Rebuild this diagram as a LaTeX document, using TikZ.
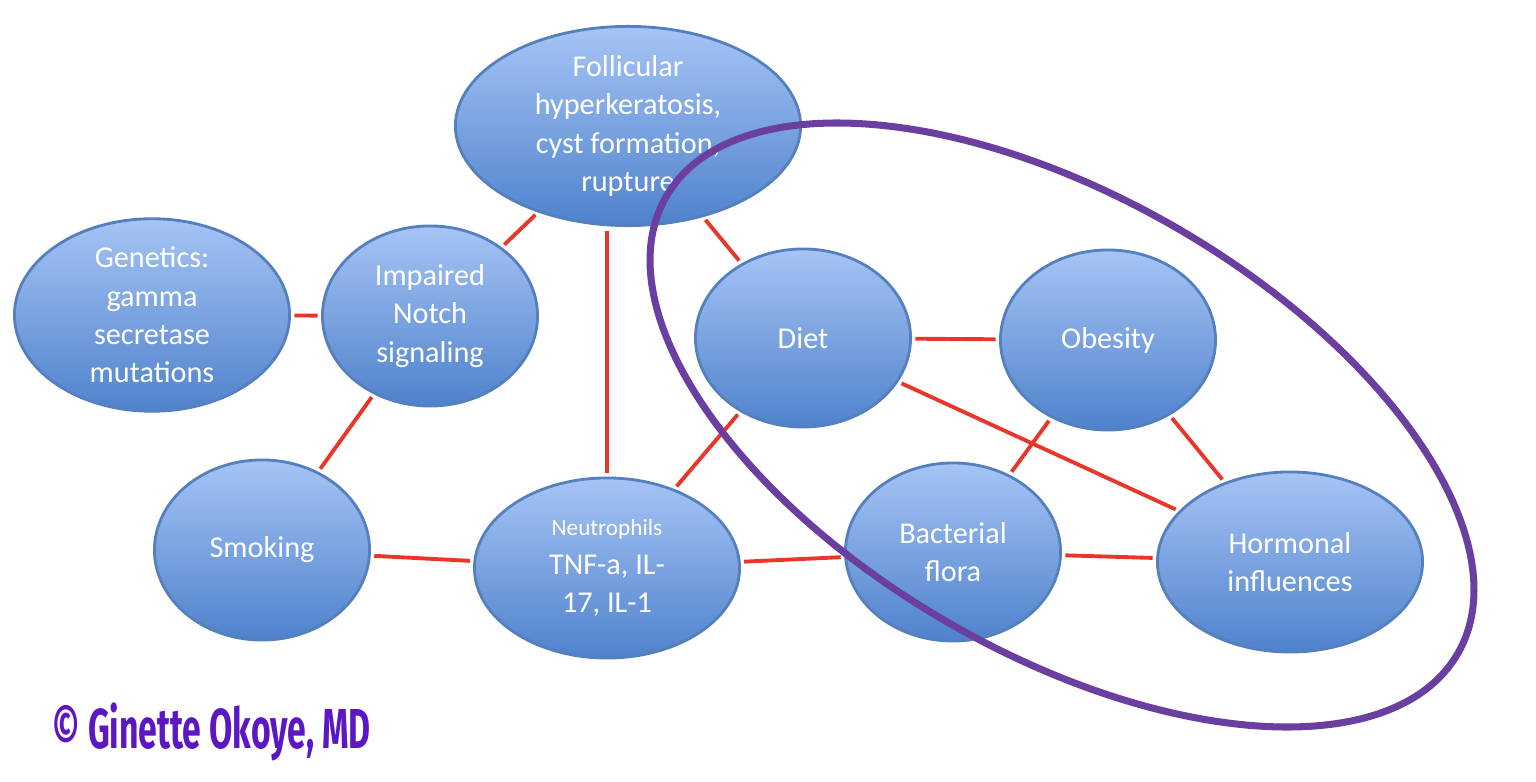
\documentclass[tikz,border=0pt]{standalone}
\usepackage{fontspec}
\setmainfont{Carlito}
\newfontfamily\signfont{Fira Sans}
\usetikzlibrary{shapes.geometric}
\definecolor{bubbletop}{HTML}{A6C4F5}
\definecolor{bubblebot}{HTML}{4F82CC}
\definecolor{bubbleline}{HTML}{5580BE}
\definecolor{linkred}{HTML}{E8362A}
\definecolor{ringpurple}{HTML}{6B3FA0}
\definecolor{signpurple}{HTML}{5B17C4}
\tikzset{bubble/.style={ellipse, draw=bubbleline, line width=0.8pt, top color=bubbletop,
    bottom color=bubblebot, text=white, align=center, inner sep=0pt,
    font=\fontsize{8.6}{10.9}\selectfont}}
\tikzset{link/.style={draw=linkred, line width=1.1pt, shorten >=1pt, shorten <=1pt}}
\begin{document}
\begin{tikzpicture}[x=0.01cm, y=-0.01cm]
  \useasboundingbox (0,0) rectangle (1536,782);
  % bubbles
  \node[bubble, minimum width=3.45cm, minimum height=1.8cm] (foll) at (628,126)
    {Follicular\\hyperkeratosis,\\cyst formation,\\rupture};
  \node[bubble, minimum width=2.75cm, minimum height=1.9cm] (gen) at (152,315)
    {Genetics:\\gamma\\secretase\\mutations};
  \node[bubble, minimum width=2.15cm, minimum height=1.8cm] (notch) at (430,316)
    {Impaired\\Notch\\signaling};
  \node[bubble, minimum width=2.15cm, minimum height=1.8cm] (smok) at (262,550) {Smoking};
  \node[bubble, minimum width=2.65cm, minimum height=1.8cm] (neut) at (607,568)
    {{\fontsize{6.6}{10.9}\selectfont Neutrophils}\\TNF-a, IL-\\17, IL-1};
  \node[bubble, minimum width=2.15cm, minimum height=1.78cm] (diet) at (803,338) {Diet};
  \node[bubble, minimum width=2.15cm, minimum height=1.8cm] (obes) at (1108,340) {Obesity};
  \node[bubble, minimum width=2.15cm, minimum height=1.78cm] (bact) at (953,552) {Bacterial\\flora};
  \node[bubble, minimum width=2.65cm, minimum height=1.8cm] (horm) at (1290,562) {Hormonal\\influences};
  % links
  \draw[link] (gen) -- (notch);
  \draw[link] (foll) -- (notch);
  \draw[link] (foll.south -| neut.north) -- (neut.north);
  \draw[link] (foll) -- (diet);
  \draw[link] (notch) -- (smok);
  \draw[link] (smok) -- (neut);
  \draw[link] (neut) -- (diet);
  \draw[link] (neut) -- (bact);
  \draw[link] (diet) -- (obes);
  \draw[link] (diet) -- (horm);
  \draw[link] (obes) -- (bact);
  \draw[link] (obes) -- (horm);
  \draw[link] (bact) -- (horm);
  % ring and signature
  \draw[ringpurple, line width=2pt, rotate around={-30:(1062,425)}]
    (1062,425) ellipse [x radius=457, y radius=228];
  \node[text=signpurple, anchor=west, inner sep=0pt] (sign) at (52,732)
    {\scalebox{0.6}[1]{\signfont\bfseries\fontsize{16}{16}\selectfont © Ginette Okoye, MD}};
\end{tikzpicture}
\end{document}
